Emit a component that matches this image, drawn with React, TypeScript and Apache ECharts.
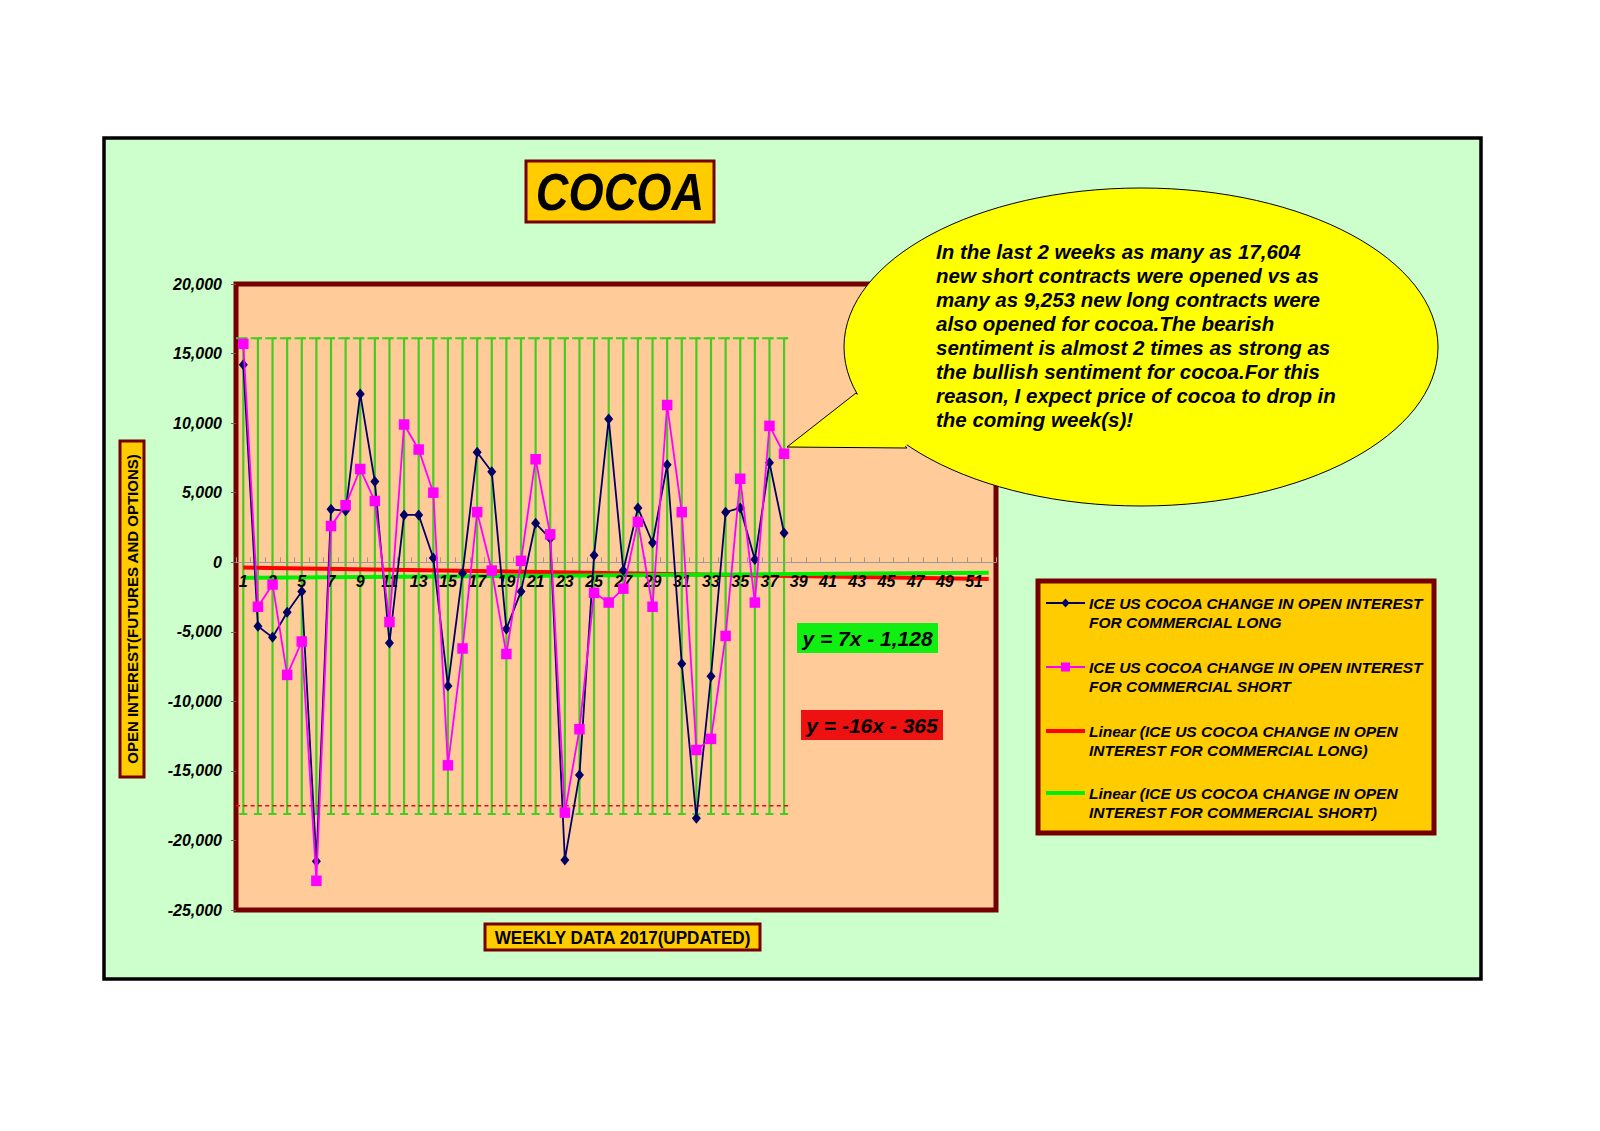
import React, { useEffect, useRef } from 'react';
import * as echarts from 'echarts';

// ---------- data ----------
const categories = [
  '1', '2', '3', '4', '5', '6', '7', '8', '9', '10', '11', '12', '13',
  '14', '15', '16', '17', '18', '19', '20', '21', '22', '23', '24', '25', '26',
  '27', '28', '29', '30', '31', '32', '33', '34', '35', '36', '37', '38', '39',
  '40', '41', '42', '43', '44', '45', '46', '47', '48', '49', '50', '51', '52',
];

const longChange = [
  14200, -4600, -5400, -3600, -2100, -21500, 3800, 3700, 12100, 5800,
  -5800, 3400, 3400, 300, -8900, -800, 7900, 6500, -4800, -2100,
  2800, 1700, -21400, -15300, 500, 10300, -600, 3900, 1400, 7000,
  -7300, -18400, -8200, 3600, 3900, 200, 7150, 2100,
];

const shortChange = [
  15700, -3200, -1600, -8100, -5700, -22900, 2600, 4100, 6700, 4400,
  -4300, 9900, 8100, 5000, -14600, -6200, 3600, -600, -6600, 100,
  7400, 2000, -18000, -12000, -2200, -2900, -1900, 2900, -3200, 11300,
  3600, -13500, -12700, -5300, 6000, -2900, 9800, 7800,
];

// trend line end values (week 1 and week 52)
const longTrendEnds = [-380, -1200];
const shortTrendEnds = [-1120, -760];

// constant error-bar band shown at every reported week
const errorBarTop = 16100;
const errorBarBottom = -18100;
const redCapLevel = -17500;

const yMin = -25000;
const yMax = 20000;
const yInterval = 5000;

const seriesNames = [
  'ICE US COCOA CHANGE IN OPEN INTEREST FOR COMMERCIAL LONG',
  'ICE US COCOA CHANGE IN OPEN INTEREST FOR COMMERCIAL SHORT',
  'Linear (ICE US COCOA CHANGE IN OPEN INTEREST FOR COMMERCIAL LONG)',
  'Linear (ICE US COCOA CHANGE IN OPEN INTEREST FOR COMMERCIAL SHORT)',
];

const legendLines = [
  'ICE US COCOA CHANGE IN OPEN INTEREST\nFOR COMMERCIAL LONG',
  'ICE US COCOA CHANGE IN OPEN INTEREST\nFOR COMMERCIAL SHORT',
  'Linear (ICE US COCOA CHANGE IN OPEN\nINTEREST FOR COMMERCIAL LONG)',
  'Linear (ICE US COCOA CHANGE IN OPEN\nINTEREST FOR COMMERCIAL SHORT)',
];

const bubbleLines = [
  'In the last 2 weeks as many as 17,604',
  'new short contracts were opened vs as',
  'many as 9,253 new long contracts were',
  'also opened for cocoa.The bearish',
  'sentiment is almost 2 times as strong as',
  'the bullish sentiment for cocoa.For this',
  'reason, I expect price of cocoa to drop in',
  'the coming week(s)!',
];

const titleText = 'COCOA';
const xAxisTitle = 'WEEKLY DATA 2017(UPDATED)';
const yAxisTitle = 'OPEN INTEREST(FUTURES AND OPTIONS)';
const longEquation = 'y = -16x - 365';
const shortEquation = 'y = 7x - 1,128';

// ---------- layout / styles ----------
const FONT = '"Liberation Sans", Arial, Helvetica, sans-serif';
const NAVY = '#000066';
const MAGENTA = '#ff00ff';
const RED = '#ff0000';
const GREEN = '#00ee00';
const BAR_GREEN = '#44cc22';
const DARK_RED = '#760000';
const GOLD = '#ffcc00';

const GRID_TOP = 284;
const GRID_BOTTOM_Y = 910;
const ZERO_OFFSET = -((GRID_BOTTOM_Y - GRID_TOP) * (0 - yMin)) / (yMax - yMin);

function buildOption() {
  const errorData = longChange.map((_, i) => [i, errorBarTop, errorBarBottom, redCapLevel]);

  const legendY = [603, 667, 731, 793];
  const legendX1 = 1046;
  const legendX2 = 1085;
  const legendMid = (legendX1 + legendX2) / 2;

  const legendGraphics: any[] = [
    {
      type: 'rect', z: 100,
      shape: { x: 1038, y: 581, width: 396, height: 252 },
      style: { fill: GOLD, stroke: DARK_RED, lineWidth: 5 },
    },
    { type: 'line', z: 101, shape: { x1: legendX1, y1: legendY[0], x2: legendX2, y2: legendY[0] }, style: { stroke: NAVY, lineWidth: 1.8 } },
    { type: 'polygon', z: 102, shape: { points: [[legendMid, legendY[0] - 4.5], [legendMid + 4, legendY[0]], [legendMid, legendY[0] + 4.5], [legendMid - 4, legendY[0]]] }, style: { fill: NAVY } },
    { type: 'line', z: 101, shape: { x1: legendX1, y1: legendY[1], x2: legendX2, y2: legendY[1] }, style: { stroke: MAGENTA, lineWidth: 1.8 } },
    { type: 'rect', z: 102, shape: { x: legendMid - 4.5, y: legendY[1] - 4.5, width: 9, height: 9 }, style: { fill: MAGENTA } },
    { type: 'line', z: 101, shape: { x1: legendX1, y1: legendY[2], x2: legendX2, y2: legendY[2] }, style: { stroke: RED, lineWidth: 4 } },
    { type: 'line', z: 101, shape: { x1: legendX1, y1: legendY[3], x2: legendX2, y2: legendY[3] }, style: { stroke: GREEN, lineWidth: 4 } },
  ];
  legendLines.forEach((t, i) => {
    legendGraphics.push({
      type: 'text', z: 102, x: 1089, y: legendY[i] - 9.5,
      style: {
        text: t, fill: '#000', fontFamily: FONT, fontSize: 15.5, fontWeight: 'bold',
        fontStyle: 'italic', lineHeight: 19, align: 'left', verticalAlign: 'top',
      },
    });
  });

  const graphic: any[] = [
    {
      type: 'rect', z: -10,
      shape: { x: 104, y: 138, width: 1377, height: 841 },
      style: { fill: '#ccffcc', stroke: '#000', lineWidth: 3.5 },
    },
    {
      type: 'rect', z: 100,
      shape: { x: 526, y: 161, width: 188, height: 61 },
      style: { fill: GOLD, stroke: DARK_RED, lineWidth: 3 },
    },
    {
      type: 'text', z: 101, x: 620, y: 192, scaleX: 0.87,
      style: {
        text: titleText, fill: '#000', fontFamily: FONT, fontSize: 52, fontWeight: 'bold',
        fontStyle: 'italic', align: 'center', verticalAlign: 'middle',
      },
    },
    {
      type: 'rect', z: 100,
      shape: { x: 120, y: 441, width: 24, height: 336 },
      style: { fill: GOLD, stroke: DARK_RED, lineWidth: 3 },
    },
    {
      type: 'text', z: 101, x: 132.5, y: 609, rotation: Math.PI / 2,
      style: {
        text: yAxisTitle, fill: '#000', fontFamily: FONT, fontSize: 15, fontWeight: 'bold',
        align: 'center', verticalAlign: 'middle',
      },
    },
    {
      type: 'rect', z: 100,
      shape: { x: 485, y: 924, width: 275, height: 26 },
      style: { fill: GOLD, stroke: DARK_RED, lineWidth: 3 },
    },
    {
      type: 'text', z: 101, x: 622.5, y: 937.5, scaleX: 0.9,
      style: {
        text: xAxisTitle, fill: '#000', fontFamily: FONT, fontSize: 19, fontWeight: 'bold',
        align: 'center', verticalAlign: 'middle',
      },
    },
    {
      type: 'polygon', z: 100,
      shape: { points: [[856, 393], [787, 447], [907, 448]] },
      style: { fill: '#ffff00', stroke: '#000', lineWidth: 1 },
    },
    {
      type: 'ellipse', z: 101,
      shape: { cx: 1141, cy: 347, rx: 297, ry: 159 },
      style: { fill: '#ffff00', stroke: '#000', lineWidth: 1 },
    },
    {
      type: 'polygon', z: 102,
      shape: { points: [[857.5, 394.6], [792, 446], [905, 446.6], [930, 420], [880, 390]] },
      style: { fill: '#ffff00' },
    },
    {
      type: 'text', z: 103, x: 936, y: 239,
      style: {
        text: bubbleLines.join('\n'), fill: '#000', fontFamily: FONT, fontSize: 20.5,
        fontWeight: 'bold', fontStyle: 'italic', lineHeight: 24.1, align: 'left', verticalAlign: 'top',
      },
    },
    {
      type: 'rect', z: 100,
      shape: { x: 797, y: 623, width: 141, height: 30 },
      style: { fill: '#11ee11' },
    },
    {
      type: 'text', z: 101, x: 867.5, y: 638.5,
      style: {
        text: shortEquation, fill: '#000', fontFamily: FONT, fontSize: 21, fontWeight: 'bold',
        fontStyle: 'italic', align: 'center', verticalAlign: 'middle',
      },
    },
    {
      type: 'rect', z: 100,
      shape: { x: 801, y: 710, width: 142, height: 30 },
      style: { fill: '#ee1111' },
    },
    {
      type: 'text', z: 101, x: 872, y: 725.5,
      style: {
        text: longEquation, fill: '#000', fontFamily: FONT, fontSize: 21, fontWeight: 'bold',
        fontStyle: 'italic', align: 'center', verticalAlign: 'middle',
      },
    },
    ...legendGraphics,
  ];

  return {
    animation: false,
    backgroundColor: '#ffffff',
    textStyle: { fontFamily: FONT },
    grid: {
      left: 236, top: GRID_TOP, right: 604, bottom: 1131 - GRID_BOTTOM_Y,
      show: true, backgroundColor: '#ffcc99', borderColor: DARK_RED, borderWidth: 5,
      containLabel: false,
    },
    xAxis: {
      type: 'category',
      data: categories,
      boundaryGap: true,
      offset: ZERO_OFFSET,
      z: 2.5,
      axisLine: { show: true, onZero: false, lineStyle: { color: '#999999', width: 1 } },
      axisTick: { show: true, inside: true, length: 5, interval: 0, lineStyle: { color: '#999999' } },
      axisLabel: {
        interval: 1, margin: 11, color: '#000', fontFamily: FONT, fontSize: 16,
        fontWeight: 'bold', fontStyle: 'italic',
      },
      splitLine: { show: false },
    },
    yAxis: {
      type: 'value',
      min: yMin, max: yMax, interval: yInterval,
      axisLine: { show: false },
      axisTick: { show: true, length: 5, lineStyle: { color: '#666666' } },
      splitLine: { show: false },
      axisLabel: {
        margin: 14, color: '#000', fontFamily: FONT, fontSize: 16, fontWeight: 'bold',
        fontStyle: 'italic',
        formatter: (v: number) => v.toLocaleString('en-US'),
      },
    },
    series: [
      {
        type: 'custom',
        name: 'error bars',
        z: 1,
        silent: true,
        data: errorData,
        encode: { x: 0, y: [1, 2, 3] },
        renderItem: (params: any, api: any) => {
          const idx = api.value(0);
          const top = api.coord([idx, api.value(1)]);
          const bot = api.coord([idx, api.value(2)]);
          const red = api.coord([idx, api.value(3)]);
          const bw = api.size([1, 0])[0];
          const cap = 4;
          return {
            type: 'group',
            children: [
              { type: 'line', shape: { x1: top[0], y1: top[1], x2: bot[0], y2: bot[1] }, style: { stroke: BAR_GREEN, lineWidth: 2.2 } },
              { type: 'line', shape: { x1: top[0] - bw / 2, y1: top[1], x2: top[0] + bw / 2, y2: top[1] }, style: { stroke: BAR_GREEN, lineWidth: 2, lineDash: [4, 3.3] } },
              { type: 'line', shape: { x1: top[0] - cap, y1: top[1], x2: top[0] + cap, y2: top[1] }, style: { stroke: BAR_GREEN, lineWidth: 2 } },
              { type: 'line', shape: { x1: bot[0] - cap, y1: bot[1], x2: bot[0] + cap, y2: bot[1] }, style: { stroke: BAR_GREEN, lineWidth: 2 } },
              { type: 'line', shape: { x1: red[0] - bw / 2, y1: red[1], x2: red[0] + bw / 2, y2: red[1] }, style: { stroke: '#dd1111', lineWidth: 1.5, lineDash: [4, 3.3] } },
            ],
          };
        },
      },
      {
        type: 'line',
        name: seriesNames[2],
        z: 2,
        symbol: 'none',
        data: [[categories[0], longTrendEnds[0]], [categories[categories.length - 1], longTrendEnds[1]]],
        lineStyle: { color: RED, width: 4 },
      },
      {
        type: 'line',
        name: seriesNames[3],
        z: 2.1,
        symbol: 'none',
        data: [[categories[0], shortTrendEnds[0]], [categories[categories.length - 1], shortTrendEnds[1]]],
        lineStyle: { color: GREEN, width: 4 },
      },
      {
        type: 'line',
        name: seriesNames[0],
        z: 3,
        data: longChange,
        showAllSymbol: true,
        symbol: 'diamond',
        symbolSize: [9, 11],
        itemStyle: { color: NAVY },
        lineStyle: { color: NAVY, width: 1.8 },
      },
      {
        type: 'line',
        name: seriesNames[1],
        z: 4,
        data: shortChange,
        showAllSymbol: true,
        symbol: 'rect',
        symbolSize: 10.5,
        itemStyle: { color: MAGENTA },
        lineStyle: { color: MAGENTA, width: 1.8 },
      },
    ],
    graphic,
  };
}

export default function App() {
  const ref = useRef<HTMLDivElement>(null);
  useEffect(() => {
    if (!ref.current) return;
    const chart = echarts.init(ref.current, undefined, { renderer: 'svg' });
    chart.setOption(buildOption() as any);
    return () => chart.dispose();
  }, []);
  return (
    <div
      ref={ref}
      style={{ position: 'absolute', left: 0, top: 0, width: 1600, height: 1131, background: '#fff' }}
    />
  );
}
